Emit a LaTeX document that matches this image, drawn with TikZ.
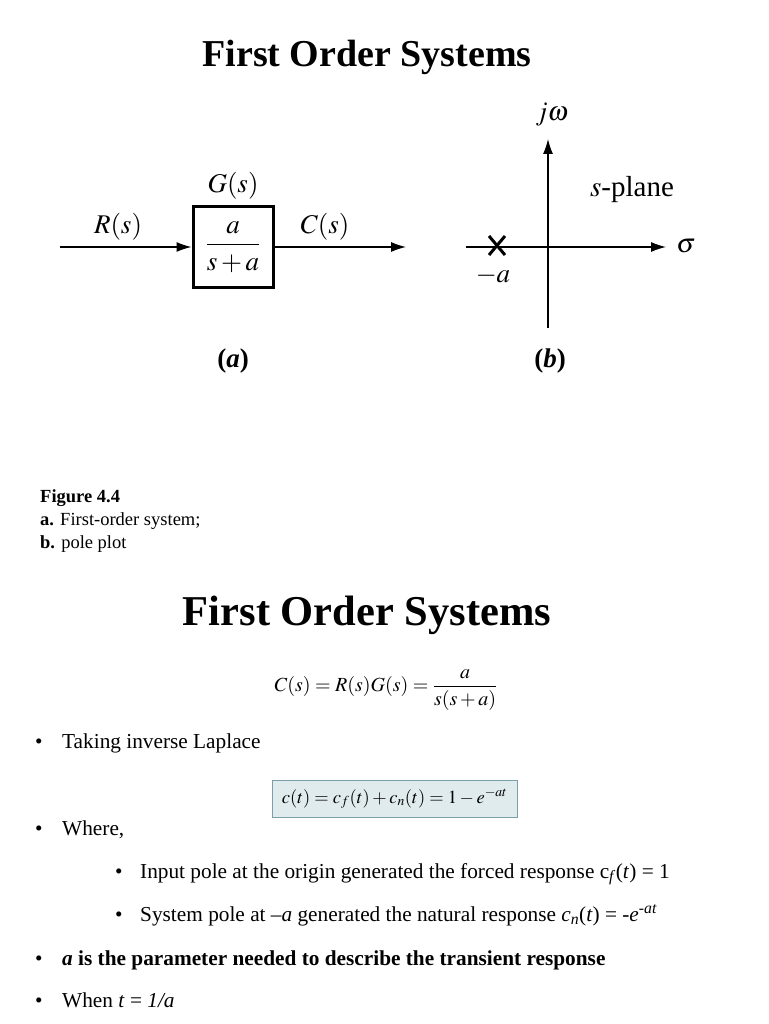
\documentclass[tikz,border=0pt]{standalone}
\usepackage{amsmath}
\usepackage{mathptmx}
\usepackage{fontspec}
\setmainfont{Liberation Serif}
\usetikzlibrary{arrows.meta}

\definecolor{boxfill}{HTML}{DFEBEC}
\definecolor{boxline}{HTML}{7E9FAA}

\begin{document}
\begin{tikzpicture}[x=1pt, y=-1pt, >={Latex[length=15pt, width=10pt]},
	title/.style={font=\fontsize{38}{42}\selectfont\bfseries},
	lbl/.style={font=\fontsize{27}{30}\selectfont},
	figcap/.style={font=\fontsize{18.5}{22}\selectfont, anchor=base west, inner sep=0pt},
	body/.style={font=\fontsize{21.3}{25}\selectfont, anchor=base west, inner sep=0pt},
	blk/.style={draw, line width=3pt, minimum size=80pt, inner sep=0pt}]
	\useasboundingbox[fill=white] (0,0) rectangle (768,1024);
	\node[title] (t1) at (367,57) {First Order Systems};
	% (a) block diagram
	\coordinate (in) at (60,247);
	\coordinate (out) at (406,247);
	\node[blk, lbl] (G) at (233,247) {$\dfrac{a}{s+a}$};
	\draw[->, line width=1.2pt] (in) -- (G);
	\draw[->, line width=1.2pt] (G) -- (out);
	\node[lbl] (Rs) at (118,227) {$R(s)$};
	\node[lbl] (Gs) at (233,186) {$G(s)$};
	\node[lbl] (Cs) at (325,227) {$C(s)$};
	\node[lbl] (la) at (233,361) {\textbf{(\textit{a})}};
	% (b) pole plot
	\coordinate (sl) at (466,247);
	\coordinate (sr) at (666,247);
	\coordinate (vb) at (548,328);
	\coordinate (vt) at (548,139);
	\draw[->, line width=1.2pt] (sl) -- (sr);
	\draw[->, line width=1.2pt] (vb) -- (vt);
	\draw[line width=3pt] (489,236) -- (505,255) (489,255) -- (505,236);
	\node[lbl] (sig) at (686,246) {$\sigma$};
	\node[lbl] (jw) at (552,115) {$j\omega$};
	\node[lbl, font=\fontsize{29}{32}\selectfont] (spl) at (632,190) {$s$-plane};
	\node[lbl] (ma) at (493,276) {$-a$};
	\node[lbl] (lb) at (550,361) {\textbf{(\textit{b})}};
	% caption
	\node[figcap] (f1) at (40,502) {\textbf{Figure 4.4}};
	\node[figcap] (f2) at (40,525) {\textbf{a.} First-order system;};
	\node[figcap] (f3) at (40,548) {\textbf{b.} pole plot};
	% second slide
	\node[title, font=\fontsize{42.5}{46}\selectfont\bfseries] (t2) at (367,615) {First Order Systems};
	\node[font=\fontsize{20}{24}\selectfont] (eq1) at (386,690) {$C(s)=R(s)G(s)=\dfrac{a}{s(s+a)}$};
	\node[body] (b1) at (35,748) {\textbullet};
	\node[body] (x1) at (62,748) {Taking inverse Laplace};
	\node[draw=boxline, fill=boxfill, line width=1pt, minimum width=245pt, minimum height=37pt,
		font=\fontsize{18.5}{22}\selectfont] (eq2) at (394.5,798.5) {$c(t)=c_f(t)+c_n(t)=1-e^{-at}$};
	\node[body] (b2) at (35,835) {\textbullet};
	\node[body] (x2) at (62,835) {Where,};
	\node[body] (b3) at (115,878) {\textbullet};
	\node[body] (x3) at (140,878) {Input pole at the origin generated the forced response c\textsubscript{\textit{f}}(\textit{t}) = 1};
	\node[body] (b4) at (115,921) {\textbullet};
	\node[body] (x4) at (140,921) {System pole at –\textit{a} generated the natural response \textit{c}\textsubscript{\textit{n}}(\textit{t}) = -\textit{e}\textsuperscript{-\textit{at}}};
	\node[body] (b5) at (35,965) {\textbullet};
	\node[body] (x5) at (62,965) {\textbf{\textit{a} is the parameter needed to describe the transient response}};
	\node[body] (b6) at (35,1007) {\textbullet};
	\node[body] (x6) at (62,1007) {When \textit{t} = \textit{1/a}};
\end{tikzpicture}
\end{document}
